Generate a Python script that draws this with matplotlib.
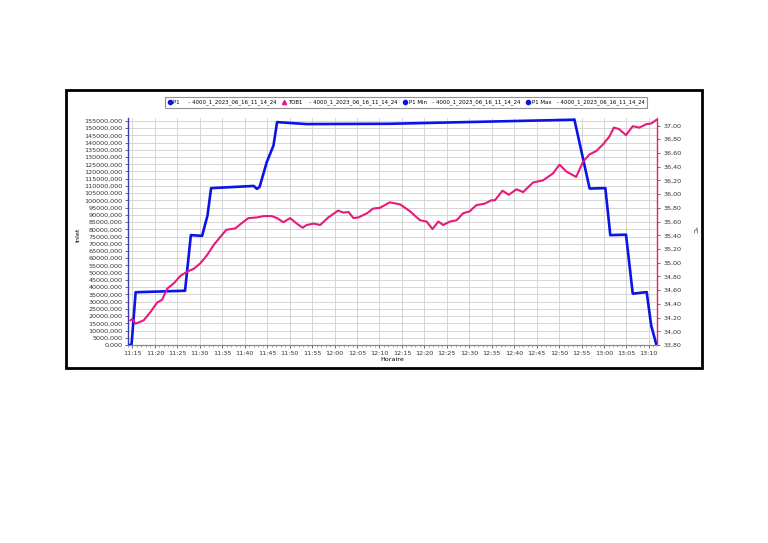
import matplotlib
matplotlib.use("Agg")
import matplotlib.pyplot as plt
from matplotlib.lines import Line2D
from matplotlib.patches import Rectangle
from matplotlib.ticker import FuncFormatter, MultipleLocator

# ---- data (minutes after 11:15) ----
p1_t = [-0.6, -0.2, 0.7, 11.4, 11.7, 13.0, 15.5, 16.7, 17.5, 27.0, 27.7, 28.3,
        29.9, 31.4, 32.2, 32.9, 38.8, 57.3, 98.1, 98.4, 101.8, 105.3, 106.4,
        109.9, 111.4, 114.5, 115.5, 116.6]
p1_v = [0, 500, 36500, 37500, 37500, 76000, 75500, 89500, 108500, 110000,
        108000, 109300, 126500, 138000, 154200, 154000, 152800, 153000,
        155800, 156000, 108200, 108500, 76000, 76300, 35500, 36600, 13600, 900]

tob_t = [-0.44, -0.07, 0.67, 2.5, 4.0, 5.5, 6.6, 7.7, 9.2, 10.7, 12.2, 13.6,
         15.1, 16.6, 18.1, 19.6, 20.9, 22.9, 24.0, 25.8, 27.7, 29.2, 31.0,
         32.2, 33.6, 35.1, 36.6, 37.9, 38.8, 40.3, 41.8, 43.6, 45.8, 47.0,
         48.1, 49.2, 50.3, 52.2, 53.6, 55.1, 57.3, 59.6, 61.8, 64.0, 65.5,
         66.8, 68.1, 69.2, 70.7, 72.2, 73.6, 75.1, 76.6, 78.4, 79.9, 80.7,
         82.4, 83.8, 85.5, 87.0, 89.2, 91.4, 93.6, 95.1, 96.6, 98.8, 100.3,
         101.8, 103.3, 104.7, 106.2, 107.2, 108.3, 109.9, 111.4, 112.9, 114.4,
         115.5, 116.6]
tob_v = [34.16, 34.18, 34.11, 34.16, 34.28, 34.42, 34.46, 34.62, 34.70, 34.81,
         34.87, 34.91, 34.99, 35.11, 35.26, 35.38, 35.48, 35.50, 35.56, 35.65,
         35.66, 35.68, 35.68, 35.65, 35.59, 35.65, 35.57, 35.51, 35.55, 35.57,
         35.55, 35.66, 35.76, 35.73, 35.74, 35.65, 35.66, 35.72, 35.79, 35.80,
         35.88, 35.85, 35.75, 35.62, 35.60, 35.49, 35.60, 35.55, 35.60, 35.62,
         35.72, 35.75, 35.84, 35.86, 35.91, 35.91, 36.05, 35.99, 36.07, 36.03,
         36.17, 36.20, 36.30, 36.43, 36.33, 36.25, 36.47, 36.58, 36.63, 36.72,
         36.84, 36.97, 36.95, 36.86, 36.99, 36.97, 37.02, 37.03, 37.08]

legend_labels = ["P1     - 4000_1_2023_06_16_11_14_24",
                 "TOB1    - 4000_1_2023_06_16_11_14_24",
                 "P1 Min   - 4000_1_2023_06_16_11_14_24",
                 "P1 Max   - 4000_1_2023_06_16_11_14_24"]

START = 11 * 60 + 15
BLUE = "#0a14e6"
PINK = "#e8197c"
FS = 4.6

fig = plt.figure(figsize=(7.68, 5.43), dpi=100)
fig.patch.set_facecolor("white")

# outer frame
fig.patches.append(Rectangle((66 / 768, 1 - 368 / 543), (702 - 66) / 768,
                             (368 - 90) / 543, transform=fig.transFigure,
                             fill=False, lw=2, ec="black"))

ax = fig.add_axes([128 / 768, 1 - 345 / 543, (657 - 128) / 768, (345 - 118) / 543])
ax2 = ax.twinx()

x1 = [START + t for t in p1_t]
x2 = [START + t for t in tob_t]

ax.plot(x1, p1_v, color=BLUE, lw=1.9, zorder=3, solid_joinstyle="round")
ax2.plot(x2, tob_v, color=PINK, lw=1.5, zorder=2)

ax.set_xlim(START - 1.0, START + 116.8)
ax.set_ylim(0, 157000)
ax2.set_ylim(33.8, 37.11)

ax.xaxis.set_minor_locator(MultipleLocator(1))
ax.xaxis.set_major_formatter(FuncFormatter(lambda v, p: f"{int(round(v)) // 60}:{int(round(v)) % 60:02d}"))
ax.set_xticks([START + 5 * i for i in range(24)])

ax.set_yticks(range(0, 155001, 5000))
ax.yaxis.set_major_formatter(FuncFormatter(lambda v, p: f"{v:.3f}".replace(".", ",")))
ax2.set_yticks([33.8 + 0.2 * i for i in range(17)])
ax2.yaxis.set_major_formatter(FuncFormatter(lambda v, p: f"{v:.2f}".replace(".", ",")))

ax.tick_params(axis="both", labelsize=FS, length=2, width=0.5, colors="#333333", pad=2)
ax.tick_params(axis="x", which="minor", length=1.5, width=0.4, color="#666666")
ax2.tick_params(axis="y", labelsize=FS, length=2, width=0.5, colors="#333333", pad=3)

ax.set_axisbelow(True)
ax.grid(True, which="major", color="#d0d0d0", lw=0.6)

for a in (ax, ax2):
    a.spines["top"].set_visible(False)
    a.spines["bottom"].set_color("#888888")
    a.spines["bottom"].set_linewidth(0.8)
ax.spines["left"].set_color("#3a3aa8")
ax.spines["left"].set_linewidth(1.0)
ax.spines["right"].set_visible(False)
ax2.spines["left"].set_visible(False)
ax2.spines["right"].set_color(PINK)
ax2.spines["right"].set_linewidth(1.0)

ax.set_xlabel("Horaire", fontsize=FS, labelpad=1)
fig.text(78 / 768, 1 - 235 / 543, "Inlet", rotation=90, fontsize=FS,
         ha="center", va="center")
fig.text(694 / 768, 1 - 230 / 543, "°C", rotation=-90, fontsize=FS,
         ha="center", va="center")

handles = [Line2D([], [], ls="none", marker="o", color=BLUE, ms=3.0),
           Line2D([], [], ls="none", marker="^", color=PINK, ms=3.0),
           Line2D([], [], ls="none", marker="o", color=BLUE, ms=3.0),
           Line2D([], [], ls="none", marker="o", color=BLUE, ms=3.0)]
leg = fig.legend(handles, legend_labels, loc="center",
                 bbox_to_anchor=(406 / 768, 1 - 102.5 / 543), ncol=4,
                 fontsize=3.9, frameon=True, fancybox=False, handlelength=0.8,
                 handletextpad=0.3, columnspacing=1.0, borderpad=0.45)
leg.get_frame().set_edgecolor("#777777")
leg.get_frame().set_linewidth(0.8)

fig.savefig("out.png", dpi=100, facecolor="white")
